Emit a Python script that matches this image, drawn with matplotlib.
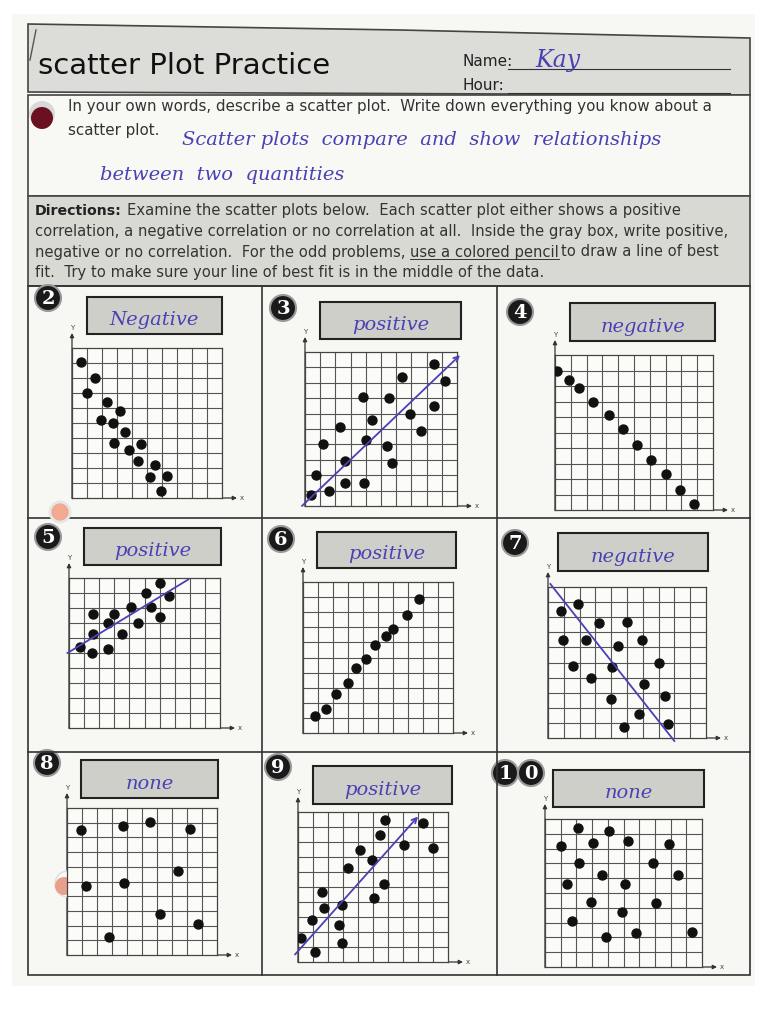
import matplotlib.pyplot as plt
from matplotlib.patches import Rectangle, Circle, Polygon

# ---- data (grid units 0-10) ----
p2_x = [0.6, 1.5, 1.0, 2.3, 3.2, 1.9, 2.7, 3.5, 2.8, 4.6, 3.8, 4.4, 5.5, 5.2, 6.3, 5.9]
p2_y = [9.1, 8.0, 7.0, 6.4, 5.8, 5.2, 5.0, 4.4, 3.7, 3.6, 3.2, 2.5, 2.2, 1.4, 1.5, 0.5]

p3_x = [0.4, 0.7, 1.6, 2.6, 3.9, 2.6, 1.2, 2.3, 4.0, 4.4, 3.8, 5.4, 5.7, 5.5, 6.4, 6.9, 7.6, 8.5, 8.5, 9.2]
p3_y = [0.7, 2.0, 1.0, 1.5, 1.5, 2.9, 4.0, 5.1, 4.3, 5.6, 7.1, 3.9, 2.8, 7.0, 8.4, 6.0, 4.9, 6.5, 9.2, 8.1]
p3_fit = ([-0.2, 10.2], [0.0, 9.8])

p4_x = [0.15, 0.9, 1.5, 2.4, 3.4, 4.3, 5.2, 6.1, 7.0, 7.9, 8.8]
p4_y = [9.0, 8.4, 7.9, 7.0, 6.1, 5.2, 4.2, 3.2, 2.3, 1.3, 0.4]

p5_x = [0.7, 1.5, 2.6, 1.6, 1.6, 2.6, 3.0, 3.5, 4.1, 4.6, 5.1, 5.4, 6.0, 6.0, 6.6]
p5_y = [5.4, 5.0, 5.3, 6.3, 7.6, 7.0, 7.6, 6.3, 8.1, 7.0, 9.0, 8.1, 7.4, 9.7, 8.8]
p5_fit = ([-0.1, 7.9], [5.0, 9.9])

p6_x = [0.8, 1.5, 2.2, 3.0, 3.5, 4.2, 4.8, 5.5, 6.0, 6.9, 7.7]
p6_y = [1.1, 1.6, 2.6, 3.3, 4.3, 4.9, 5.8, 6.4, 6.9, 7.8, 8.9]

p7_x = [0.8, 1.9, 3.2, 5.0, 0.95, 2.4, 4.4, 5.95, 1.6, 4.05, 7.0, 2.7, 6.05, 7.4, 4.0, 5.75, 7.6, 4.8]
p7_y = [8.4, 8.9, 7.6, 7.7, 6.5, 6.5, 6.1, 6.5, 4.8, 4.7, 5.0, 4.0, 3.6, 2.8, 2.6, 1.6, 0.9, 0.7]
p7_fit = ([0.15, 8.0], [10.2, -0.2])

p8_x = [0.9, 3.7, 5.55, 8.2, 7.4, 1.25, 3.8, 6.2, 8.7, 2.8]
p8_y = [8.5, 8.75, 9.05, 8.6, 5.7, 4.7, 4.9, 2.8, 2.1, 1.2]

p9_x = [0.2, 1.1, 0.95, 1.7, 1.6, 2.7, 2.9, 2.95, 3.35, 4.1, 4.95, 5.05, 5.7, 5.45, 5.8, 7.1, 8.3, 9.0]
p9_y = [1.6, 0.7, 2.8, 3.6, 4.7, 2.5, 1.3, 3.8, 6.3, 7.5, 6.8, 4.3, 5.2, 8.5, 9.5, 7.8, 9.25, 7.6]
p9_fit = ([-0.2, 8.0], [0.5, 9.7])

p10_x = [2.1, 4.1, 1.05, 3.05, 5.3, 7.9, 2.15, 6.85, 3.65, 8.5, 1.4, 5.1, 2.95, 7.05, 4.9, 1.75, 5.8, 3.9, 9.35]
p10_y = [9.4, 9.2, 8.2, 8.4, 8.5, 8.3, 7.0, 7.0, 6.2, 6.2, 5.6, 5.6, 4.4, 4.3, 3.75, 3.1, 2.3, 2.0, 2.35]

numbers = ["2", "3", "4", "5", "6", "7", "8", "9", "10"]
answers = ["Negative", "positive", "negative", "positive", "positive",
           "negative", "none", "positive", "none"]

W, H = 768, 1024
INK = "#4a42b4"
HAND = {"family": "DejaVu Serif", "style": "italic"}

fig = plt.figure(figsize=(7.68, 10.24), dpi=100)
fig.patch.set_facecolor("white")
bg = fig.add_axes([0, 0, 1, 1])
bg.set_xlim(0, W)
bg.set_ylim(H, 0)
bg.axis("off")
renderer = fig.canvas.get_renderer()


def right_edge(txt):
    # right end of a text in background data coords
    bb = txt.get_window_extent(renderer=renderer)
    return bg.transData.inverted().transform((bb.x1, bb.y0))[0]


# paper
bg.add_patch(Rectangle((12, 14), 743, 972, fc="#f7f7f3", ec="none"))

# header band
bg.add_patch(Polygon([(28, 24), (400, 30), (750, 38), (750, 95), (28, 92)],
                     closed=True, fc="#dcdcd8", ec="#444444", lw=1.2))
bg.plot([36, 30], [30, 60], color="#555555", lw=1)
bg.text(38, 66, "scatter Plot Practice", fontsize=21, family="DejaVu Sans",
        va="center", ha="left", color="#111111")
bg.text(462, 61, "Name:", fontsize=11, va="center", color="#222222")
bg.text(462, 86, "Hour:", fontsize=11, va="center", color="#222222")
bg.plot([508, 730], [69, 69], color="#333333", lw=0.8)
bg.plot([508, 730], [93, 93], color="#333333", lw=0.8)
bg.text(535, 60, "Kay", fontsize=17, color=INK, va="center", **HAND)

# describe box
bg.add_patch(Rectangle((28, 95), 722, 101, fc="#f8f8f4", ec="#444444", lw=1.2))
bg.add_patch(Circle((42, 114), 13, fc="#d8d8d8", ec="none"))
bg.add_patch(Circle((42, 118), 11, fc="#6b1020", ec="none"))
bg.text(68, 106, "In your own words, describe a scatter plot.  Write down everything you know about a",
        fontsize=10.9, va="center", color="#333333")
bg.text(68, 130, "scatter plot.", fontsize=10.9, va="center", color="#333333")
bg.text(182, 140, "Scatter plots  compare  and  show  relationships", fontsize=14,
        va="center", color=INK, **HAND)
bg.text(100, 175, "between  two  quantities", fontsize=14, va="center", color=INK, **HAND)

# directions box
bg.add_patch(Rectangle((28, 196), 722, 90, fc="#d9d9d4", ec="#444444", lw=1.2))
DFS = 10.6
t0 = bg.text(35, 211, "Directions:", fontsize=10.2, weight="bold", va="center", color="#222222")
bg.text(right_edge(t0) + 5, 211,
        "Examine the scatter plots below.  Each scatter plot either shows a positive",
        fontsize=DFS, va="center", color="#333333")
bg.text(35, 231.5, "correlation, a negative correlation or no correlation at all.  Inside the gray box, write positive,",
        fontsize=DFS, va="center", color="#333333")
ta = bg.text(35, 252, "negative or no correlation.  For the odd problems, ",
             fontsize=DFS, va="center", color="#333333")
xa = right_edge(ta)
tb = bg.text(xa, 252, "use a colored pencil", fontsize=DFS, va="center", color="#333333")
xb = right_edge(tb)
bg.plot([xa, xb], [259, 259], color="#333333", lw=0.7)
bg.text(xb + 2, 252, "to draw a line of best", fontsize=DFS, va="center", color="#333333")
bg.text(35, 272.5, "fit.  Try to make sure your line of best fit is in the middle of the data.",
        fontsize=DFS, va="center", color="#333333")

# panel frame
bg.add_patch(Rectangle((28, 286), 722, 689, fc="none", ec="#333333", lw=1.2))
for yy in (518, 752):
    bg.plot([28, 750], [yy, yy], color="#333333", lw=1.2)
for xx in (262, 497):
    bg.plot([xx, xx], [286, 975], color="#333333", lw=1.2)

# hole punches
bg.add_patch(Circle((60, 512), 10, fc="#f2a98f", ec="#e6e6e6", lw=2, zorder=5))
bg.add_patch(Circle((68, 884), 13, fc="#fafafa", ec="#dddddd", lw=1, zorder=5))
bg.add_patch(Circle((64, 886), 9, fc="#e8a08c", ec="none", zorder=5))

# panel layout: grid box, answer box, number badge
grids = [(72, 348, 222, 498), (305, 352, 457, 506), (555, 355, 713, 510),
         (69, 578, 220, 728), (303, 582, 453, 733), (548, 587, 706, 738),
         (67, 808, 217, 955), (298, 812, 448, 962), (545, 819, 702, 967)]
boxes = [(87, 297, 222, 334), (320, 302, 461, 339), (570, 303, 715, 341),
         (84, 528, 221, 565), (317, 532, 456, 568), (558, 533, 708, 571),
         (81, 760, 218, 798), (313, 766, 452, 804), (553, 770, 704, 807)]
badges = [(48, 298), (283, 308), (520, 312), (48, 537), (281, 539), (515, 543),
          (47, 763), (278, 767), (518, 773)]

xs = [p2_x, p3_x, p4_x, p5_x, p6_x, p7_x, p8_x, p9_x, p10_x]
ys = [p2_y, p3_y, p4_y, p5_y, p6_y, p7_y, p8_y, p9_y, p10_y]
fits = [None, p3_fit, None, p5_fit, None, p7_fit, None, p9_fit, None]

for k in range(9):
    gx0, gy0, gx1, gy1 = grids[k]
    bx0, by0, bx1, by1 = boxes[k]
    # answer box
    bg.add_patch(Rectangle((bx0, by0), bx1 - bx0, by1 - by0, fc="#cfcfca",
                           ec="#222222", lw=1.5))
    bg.text((bx0 + bx1) / 2, by0 + 0.62 * (by1 - by0), answers[k], fontsize=14,
            ha="center", va="center", color=INK, **HAND)
    # number badge
    cx, cy = badges[k]
    if numbers[k] == "10":
        for dx, ch in ((-13, "1"), (13, "0")):
            bg.add_patch(Circle((cx + dx, cy), 13, fc="#1a1a1a", ec="#999999", lw=1.5))
            bg.text(cx + dx, cy + 1, ch, fontsize=14, weight="bold", family="DejaVu Serif",
                    ha="center", va="center", color="white")
    else:
        bg.add_patch(Circle((cx, cy), 13, fc="#1a1a1a", ec="#999999", lw=1.5))
        bg.text(cx, cy + 1, numbers[k], fontsize=14, weight="bold", family="DejaVu Serif",
                ha="center", va="center", color="white")
    # axis arrows
    bg.annotate("", xy=(gx0, gy0 - 15), xytext=(gx0, gy1),
                arrowprops=dict(arrowstyle="-|>", color="#333333", lw=0.9,
                                mutation_scale=6, shrinkA=0, shrinkB=0))
    bg.annotate("", xy=(gx1 + 15, gy1), xytext=(gx0, gy1),
                arrowprops=dict(arrowstyle="-|>", color="#333333", lw=0.9,
                                mutation_scale=6, shrinkA=0, shrinkB=0))
    bg.text(gx0, gy0 - 20, "Y", fontsize=5, ha="center", va="center", color="#444444")
    bg.text(gx1 + 20, gy1, "x", fontsize=5, ha="center", va="center", color="#444444")

    ax = fig.add_axes([gx0 / W, 1 - gy1 / H, (gx1 - gx0) / W, (gy1 - gy0) / H])
    ax.set_xlim(0, 10)
    ax.set_ylim(0, 10)
    ax.set_facecolor("#fbfbf8")
    for t in range(1, 10):
        ax.axvline(t, color="#555555", lw=0.8)
        ax.axhline(t, color="#555555", lw=0.8)
    for s in ax.spines.values():
        s.set_color("#444444")
        s.set_linewidth(0.9)
    ax.set_xticks([])
    ax.set_yticks([])
    ax.scatter(xs[k], ys[k], s=42, color="#111111", zorder=3)
    if fits[k] is not None:
        fx, fy = fits[k]
        if k in (1, 7):
            ax.annotate("", xy=(fx[1], fy[1]), xytext=(fx[0], fy[0]),
                        arrowprops=dict(arrowstyle="->", color=INK, lw=1.3,
                                        mutation_scale=9, shrinkA=0, shrinkB=0),
                        annotation_clip=False)
        else:
            ax.plot(fx, fy, color=INK, lw=1.3, clip_on=False, zorder=4)

plt.savefig("out.png", dpi=100)
